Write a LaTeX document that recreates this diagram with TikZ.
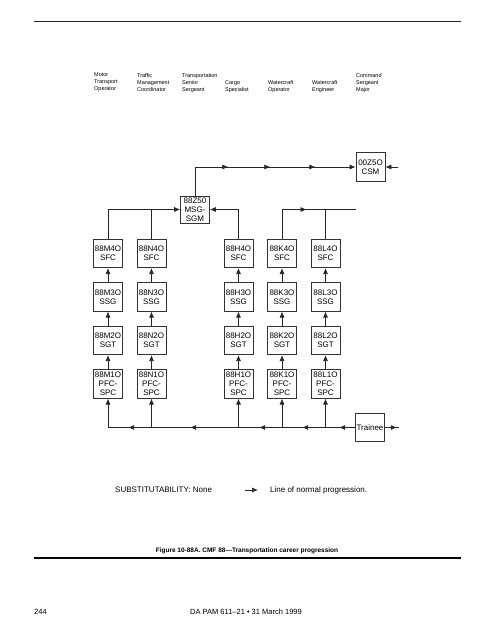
\documentclass[tikz,border=0pt]{standalone}
\usepackage{fontspec}
\setmainfont{Liberation Sans}
\usetikzlibrary{arrows.meta,decorations.markings,positioning}

\begin{document}
\begin{tikzpicture}[x=1pt,y=1pt,node distance=43.5pt,
	grade/.style={draw=black!80,line width=0.7pt,minimum width=29pt,minimum height=28.5pt,
		inner sep=0.5pt,align=center,font=\fontsize{8}{9.2}\selectfont},
	hdr/.style={anchor=north west,inner sep=0pt,align=left,font=\fontsize{5.5}{7}\selectfont},
	txt/.style={anchor=base west,inner sep=0pt,font=\fontsize{8}{9.6}\selectfont},
	track/.style={draw=black!85,line width=0.7pt},
	>={Latex[length=6pt,width=5pt]},
	midtip/.style={postaction={decorate,decoration={markings,
		mark=at position #1 with {\arrow{Latex[length=6pt,width=5pt]}}}}}]
	\useasboundingbox (0,0) rectangle (495,640);

	% page rules
	\draw[black!85,line width=0.9pt] (34,619) -- (461,619);
	\draw[black,line width=1.3pt] (34,82) -- (461,82);

	% column headings
	\node[hdr] (h1) at (94,567) {Motor\\Transport\\Operator};
	\node[hdr] (h2) at (137,567) {Traffic\\Management\\Coordinator};
	\node[hdr] (h3) at (182,567) {Transportation\\Senior\\Sergeant};
	\node[hdr] (h4) at (225,560) {Cargo\\Specialist};
	\node[hdr] (h5) at (268,560) {Watercraft\\Operator};
	\node[hdr] (h6) at (312,560) {Watercraft\\Engineer};
	\node[hdr] (h7) at (356,567) {Command\\Sergeant\\Major};

	% grades
	\node[grade] (M4) at (108,386.5) {88M4O\\SFC};
	\node[grade] (M3) [below of=M4] {88M3O\\SSG};
	\node[grade] (M2) [below of=M3] {88M2O\\SGT};
	\node[grade] (M1) [below of=M2] {88M1O\\PFC-\\SPC};
	\node[grade] (N4) [right of=M4] {88N4O\\SFC};
	\node[grade] (N3) [right of=M3] {88N3O\\SSG};
	\node[grade] (N2) [right of=M2] {88N2O\\SGT};
	\node[grade] (N1) [right of=M1] {88N1O\\PFC-\\SPC};
	\node[grade] (H4) [node distance=87pt,right of=N4] {88H4O\\SFC};
	\node[grade] (H3) [node distance=87pt,right of=N3] {88H3O\\SSG};
	\node[grade] (H2) [node distance=87pt,right of=N2] {88H2O\\SGT};
	\node[grade] (H1) [node distance=87pt,right of=N1] {88H1O\\PFC-\\SPC};
	\node[grade] (K4) [right of=H4] {88K4O\\SFC};
	\node[grade] (K3) [right of=H3] {88K3O\\SSG};
	\node[grade] (K2) [right of=H2] {88K2O\\SGT};
	\node[grade] (K1) [right of=H1] {88K1O\\PFC-\\SPC};
	\node[grade] (L4) [right of=K4] {88L4O\\SFC};
	\node[grade] (L3) [right of=K3] {88L3O\\SSG};
	\node[grade] (L2) [right of=K2] {88L2O\\SGT};
	\node[grade] (L1) [right of=K1] {88L1O\\PFC-\\SPC};

	\node[grade,minimum height=27pt] (Z) at (195,430.5) {88Z50\\MSG-\\SGM};
	\node[grade] (CSM) at (370.5,473) {00Z5O\\CSM};
	\node[grade,inner sep=0pt] (T) at (370,212.5) {Trainee};

	% progression
	\foreach \c in {M,N,H,K,L} {
		\draw[track,->] (\c1) -- (\c2);
		\draw[track,->] (\c2) -- (\c3);
		\draw[track,->] (\c3) -- (\c4);
	}

	\draw[track,->] (M4.north) |- (Z.west);
	\draw[track] (N4.north) -- (N4.north |- Z.west);
	\draw[track,->] (H4.north) |- (Z.east);
	\draw[track,->,midtip=62pt,midtip=104pt,midtip=149pt] (Z.north) |- (CSM.west);
	\coordinate (csmin) at ([xshift=13pt]CSM.east);
	\draw[track,->] (csmin) -- (CSM.east);

	\draw[track,midtip=54pt] (K4.north) |- (CSM.west |- Z.east);
	\draw[track] (L4.north) -- (L4.north |- Z.east);

	\draw[track,->,midtip=16pt,midtip=53pt,midtip=96pt,midtip=165pt,midtip=227pt]
		(T.west) -| (M1.south);
	\foreach \c in {N,H,K,L}
		\draw[track,->] (\c1.south |- T.west) -- (\c1.south);
	\coordinate (tout) at ([xshift=14pt]T.east);
	\draw[track,midtip=12pt] (T.east) -- (tout);

	% legend
	\node[txt] (sub) at (115,147) {SUBSTITUTABILITY: None};
	\coordinate (lg1) at (245,150);
	\coordinate (lg2) at (258,150);
	\draw[track,->] (lg1) -- (lg2);
	\node[txt] (lgtext) at (270,147) {Line of normal progression.};

	% caption and footer
	\node[anchor=base,inner sep=0pt,font=\bfseries\fontsize{6.5}{8}\selectfont] (cap) at (247,87)
		{Figure 10-88A. CMF 88—Transportation career progression};
	\node[anchor=base west,inner sep=0pt,font=\fontsize{7.5}{9}\selectfont] (pg) at (34,25) {244};
	\node[anchor=base,inner sep=0pt,font=\fontsize{7.5}{9}\selectfont] (ft) at (246,25)
		{DA PAM 611–21 • 31 March 1999};
\end{tikzpicture}
\end{document}
